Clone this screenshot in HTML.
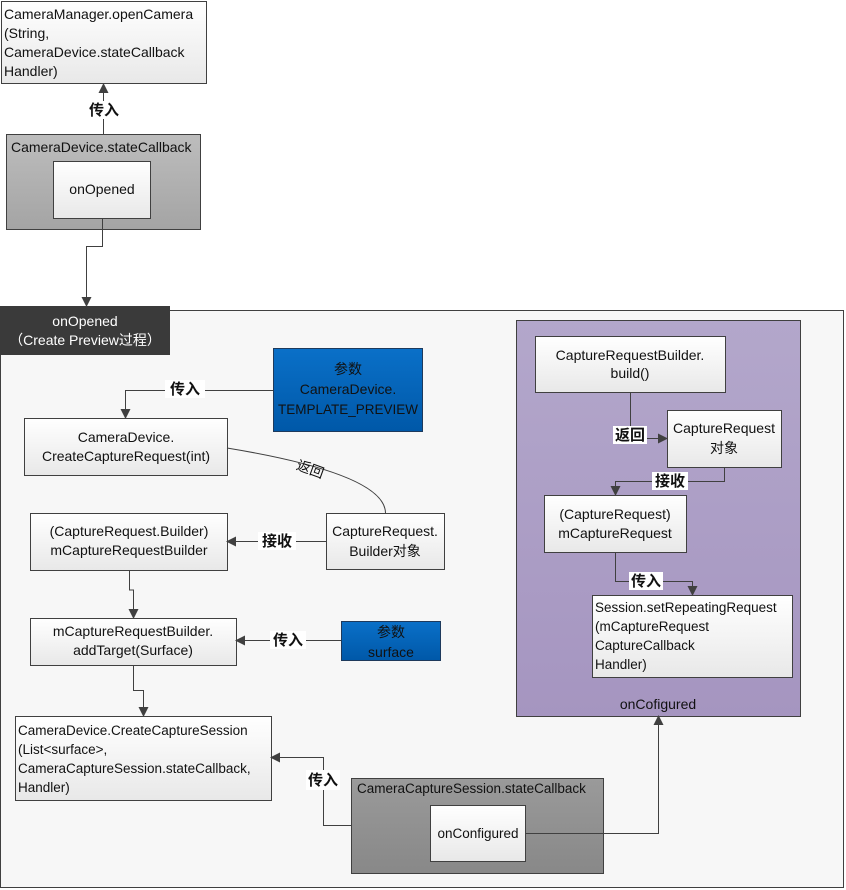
<!DOCTYPE html>
<html><head><meta charset="utf-8"><style>
html,body{margin:0;padding:0;background:#fff;}
svg{display:block;font-family:"Liberation Sans","Noto Sans CJK SC",sans-serif;font-size:14px;}
</style></head><body>
<svg width="846" height="890" viewBox="0 0 846 890" xmlns="http://www.w3.org/2000/svg">
<defs>
<marker id="a" markerWidth="10" markerHeight="10" refX="9" refY="5" orient="auto" markerUnits="userSpaceOnUse"><path d="M0,0 L10,5 L0,10 z" fill="#404040"/></marker>
<linearGradient id="w" x1="0" y1="0" x2="0" y2="1"><stop offset="0" stop-color="#ffffff"/><stop offset="1" stop-color="#e8e8e8"/></linearGradient>
<linearGradient id="g" x1="0" y1="0" x2="0" y2="1"><stop offset="0" stop-color="#bdbdbd"/><stop offset="1" stop-color="#a4a4a4"/></linearGradient>
<linearGradient id="g2" x1="0" y1="0" x2="0" y2="1"><stop offset="0" stop-color="#9a9a9a"/><stop offset="1" stop-color="#888"/></linearGradient>
<linearGradient id="p" x1="0" y1="0" x2="0" y2="1"><stop offset="0" stop-color="#b3a7cb"/><stop offset="1" stop-color="#a595c0"/></linearGradient>
<linearGradient id="b" x1="0" y1="0" x2="0" y2="1"><stop offset="0" stop-color="#0a70c8"/><stop offset="1" stop-color="#0058a8"/></linearGradient>
</defs>
<g stroke="#404040" stroke-width="1">
<rect x="0.5" y="310.5" width="843" height="577" fill="#f7f7f7"/>
<rect x="1.5" y="1.5" width="205" height="82" fill="url(#w)"/>
<rect x="6.5" y="134.5" width="194" height="95" fill="url(#g)"/>
<rect x="53.5" y="161.5" width="97" height="57" fill="url(#w)"/>
<rect x="0" y="306" width="170" height="49" fill="#3a3a3a" stroke="none"/>
<rect x="516.5" y="320.5" width="284" height="396" fill="url(#p)"/>
<rect x="535.5" y="336.5" width="190" height="56" fill="url(#w)"/>
<rect x="667.5" y="410.5" width="114" height="57" fill="url(#w)"/>
<rect x="544.5" y="495.5" width="142" height="57" fill="url(#w)"/>
<rect x="592.5" y="595.5" width="200" height="82" fill="url(#w)"/>
<rect x="273.5" y="348.5" width="149" height="83" fill="url(#b)" stroke="#1e3a5c"/>
<rect x="24.5" y="418.5" width="203" height="57" fill="url(#w)"/>
<rect x="326.5" y="513.5" width="118" height="56" fill="url(#w)"/>
<rect x="30.5" y="513.5" width="197" height="57" fill="url(#w)"/>
<rect x="30.5" y="618.5" width="206" height="47" fill="url(#w)"/>
<rect x="341.5" y="621.5" width="99" height="39" fill="url(#b)" stroke="#1e3a5c"/>
<rect x="15.5" y="716.5" width="256" height="84" fill="url(#w)"/>
<rect x="351.5" y="778.5" width="252" height="95" fill="url(#g2)"/>
<rect x="430.5" y="805.5" width="95" height="56" fill="url(#w)"/>
<g fill="none">
<path d="M103.5,134 V84" marker-end="url(#a)"/>
<path d="M102.5,218 V246.5 H86.5 V306" marker-end="url(#a)"/>
<path d="M273,390.5 H125.5 V418" marker-end="url(#a)"/>
<path d="M227,448 C300,460 385,480 385.5,513"/>
<path d="M326,541.5 H227" marker-end="url(#a)"/>
<path d="M129.5,570 V590 H133.5 V618" marker-end="url(#a)"/>
<path d="M341,640.5 H236" marker-end="url(#a)"/>
<path d="M133.5,665 V690.5 H143.5 V716" marker-end="url(#a)"/>
<path d="M351,825.5 H323.5 V757.5 H271" marker-end="url(#a)"/>
<path d="M525,833.5 H658.5 V716" marker-end="url(#a)"/>
<path d="M630.5,392 V438.5 H667" marker-end="url(#a)"/>
<path d="M724.5,467 V481.5 H615.5 V495" marker-end="url(#a)"/>
<path d="M615.5,552 V581.5 H692.5 V595" marker-end="url(#a)"/>
</g>
</g>
<g fill="#fff" stroke="none">
<rect x="88" y="101" width="32" height="18"/>
<rect x="165" y="380" width="40" height="18"/>
<rect x="258" y="532" width="38" height="18"/>
<rect x="270" y="631" width="36" height="18"/>
<rect x="306" y="770" width="34" height="20"/>
<rect x="613" y="426" width="34" height="18"/>
<rect x="652" y="472" width="36" height="18"/>
<rect x="629" y="572" width="34" height="18"/>
</g>
<g font-weight="bold" font-size="15" fill="#111" text-anchor="middle">
<text x="104" y="115">传入</text>
<text x="185" y="394">传入</text>
<text x="277" y="546">接收</text>
<text x="288" y="645">传入</text>
<text x="323" y="785">传入</text>
<text x="630" y="440">返回</text>
<text x="670" y="486">接收</text>
<text x="646" y="586">传入</text>
</g>
<text x="310" y="474" font-size="14" fill="#111" text-anchor="middle" transform="rotate(20 310 470)">返回</text>
<g fill="#111">
<text x="4" y="19">CameraManager.openCamera</text>
<text x="4" y="38">(String,</text>
<text x="4" y="57">CameraDevice.stateCallback</text>
<text x="4" y="76">Handler)</text>
<text x="11" y="152">CameraDevice.stateCallback</text>
<text x="102" y="194" text-anchor="middle">onOpened</text>
<text x="18" y="735" font-size="13.5">CameraDevice.CreateCaptureSession</text>
<text x="18" y="754" font-size="13.5">(List&lt;surface&gt;,</text>
<text x="18" y="773" font-size="13.5">CameraCaptureSession.stateCallback,</text>
<text x="18" y="792" font-size="13.5">Handler)</text>
<text x="357" y="793" font-size="13.5">CameraCaptureSession.stateCallback</text>
<text x="478" y="838" text-anchor="middle" font-size="13.5">onConfigured</text>
<text x="595" y="612" font-size="13.5">Session.setRepeatingRequest</text>
<text x="595" y="631" font-size="13.5">(mCaptureRequest</text>
<text x="595" y="650" font-size="13.5">CaptureCallback</text>
<text x="595" y="669" font-size="13.5">Handler)</text>
</g>
<g fill="#111" text-anchor="middle">
<text x="630" y="360">CaptureRequestBuilder.</text>
<text x="630" y="378">build()</text>
<text x="724" y="433">CaptureRequest</text>
<text x="724" y="453">对象</text>
<text x="615" y="519">(CaptureRequest)</text>
<text x="615" y="538">mCaptureRequest</text>
<text x="658" y="709">onCofigured</text>
<text x="126" y="442">CameraDevice.</text>
<text x="126" y="461">CreateCaptureRequest(int)</text>
<text x="129" y="536">(CaptureRequest.Builder)</text>
<text x="129" y="555">mCaptureRequestBuilder</text>
<text x="385" y="536">CaptureRequest.</text>
<text x="385" y="556">Builder对象</text>
<text x="133" y="636">mCaptureRequestBuilder.</text>
<text x="133" y="655">addTarget(Surface)</text>
<text x="348" y="374">参数</text>
<text x="348" y="394">CameraDevice.</text>
<text x="348" y="414" font-size="13.5">TEMPLATE_PREVIEW</text>
<text x="391" y="637">参数</text>
<text x="391" y="657">surface</text>
</g>
<g fill="#fff" text-anchor="middle">
<text x="85" y="326">onOpened</text>
<text x="85" y="345">（Create Preview过程）</text>
</g>
</svg>
</body></html>
